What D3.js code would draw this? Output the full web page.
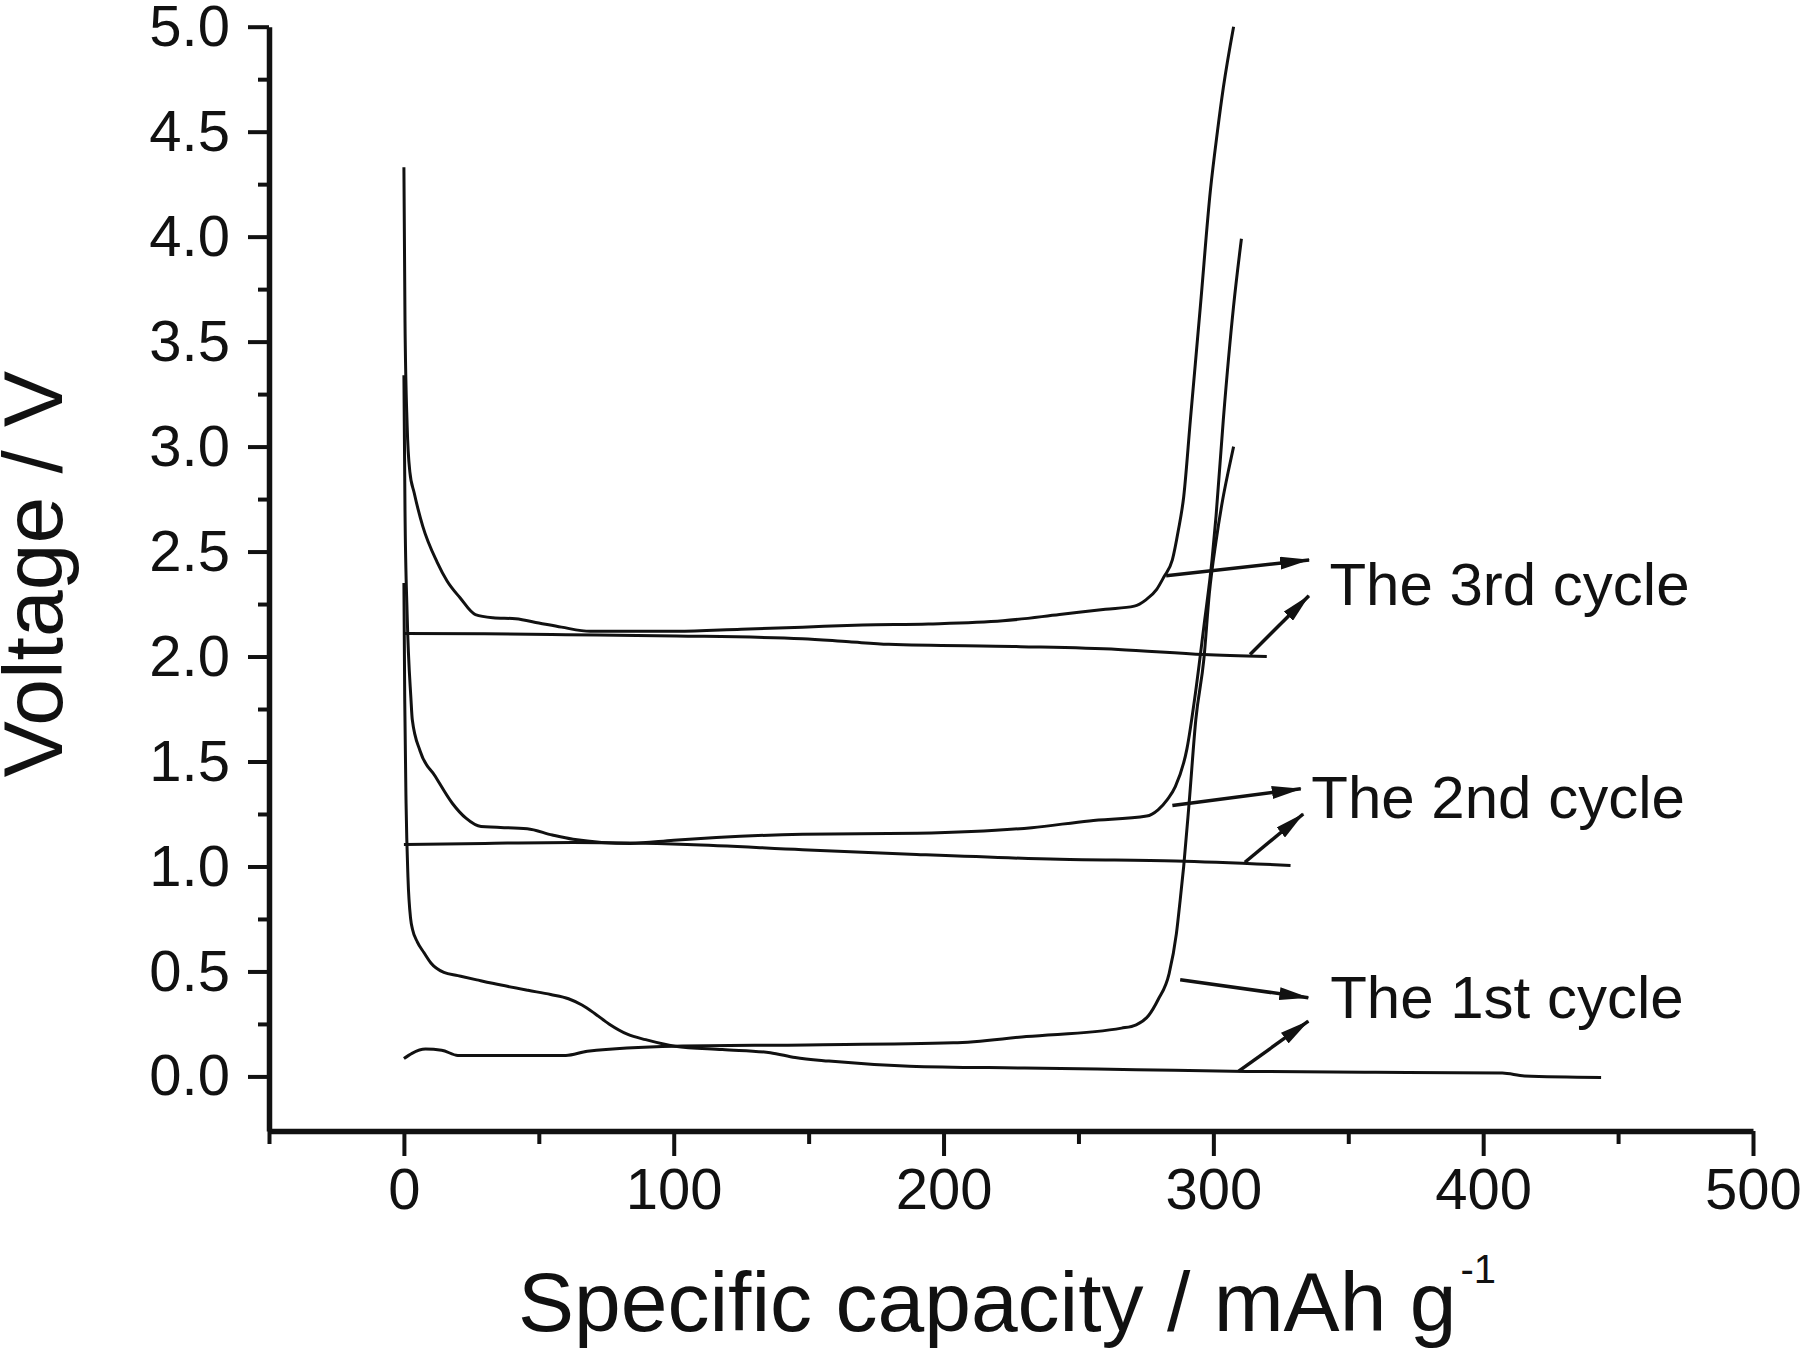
<!DOCTYPE html>
<html>
<head>
<meta charset="utf-8">
<script src="https://cdn.jsdelivr.net/npm/d3@7"></script>
<style>
  html, body { margin: 0; padding: 0; background: #fff; }
  svg { display: block; font-family: "Liberation Sans", Arial, Helvetica, sans-serif; }
  .axis path, .axis line { stroke: #111; }
  .axis text { fill: #111; }
  .curve { fill: none; stroke: #111; stroke-width: 3; stroke-linejoin: round; }
  .arrow { stroke: #111; stroke-width: 3.5; }
</style>
</head>
<body>
<div id="chart"></div>
<script>
// tick values
var capacityTicks = [0, 100, 200, 300, 400, 500];
var capacityMinor = [-50, 50, 150, 250, 350, 450];
var voltageTicks = [0, 0.5, 1.0, 1.5, 2.0, 2.5, 3.0, 3.5, 4.0, 4.5, 5.0];
var voltageMinor = [0.25, 0.75, 1.25, 1.75, 2.25, 2.75, 3.25, 3.75, 4.25, 4.75];

// [capacity mAh/g, voltage V] (cycles 2 and 3 are shifted up by 1 V and 2 V)
var cycle1Discharge = [[0, 2.35], [0.3, 1.8], [0.8, 1.3], [1.5, 0.95], [2.5, 0.75], [3.2, 0.70], [5, 0.64], [7.4, 0.59], [10, 0.54], [14.8, 0.495], [20, 0.48], [27, 0.46], [36, 0.435], [46, 0.41], [54.4, 0.39], [61, 0.37], [66, 0.34], [70.7, 0.30], [76, 0.25], [83, 0.2], [89.6, 0.175], [100.5, 0.144], [118, 0.128], [135.8, 0.113], [145, 0.09], [157.5, 0.073], [187.4, 0.049], [230, 0.04], [271.4, 0.032], [312.2, 0.024], [360, 0.02], [407.1, 0.016], [415.3, 0.002], [443.7, -0.005]];
var cycle1Charge = [[0, 0.085], [3, 0.11], [8, 0.13], [14, 0.125], [20, 0.1], [40, 0.1], [60, 0.1], [68, 0.12], [100.5, 0.144], [149.3, 0.15], [203.6, 0.16], [230.7, 0.19], [266, 0.23], [271.4, 0.246], [276, 0.29], [279.5, 0.365], [283.6, 0.49], [286.3, 0.68], [287.7, 0.84], [289, 1.0], [291, 1.3], [293.5, 1.7], [296.5, 1.99], [298.5, 2.3], [301, 2.55], [303.5, 2.75], [305.5, 2.88], [307.5, 3.0]];
var cycle2Sloped = [[0, 3.34], [0.4, 2.7], [1.2, 2.2], [2.6, 1.8], [3.1, 1.7], [6, 1.55], [11.6, 1.43], [18, 1.3], [23, 1.23], [28.6, 1.19], [45.7, 1.18], [55, 1.15], [62.7, 1.13], [83.9, 1.11], [100, 1.125], [115.8, 1.138], [147.7, 1.153], [190.2, 1.158], [232.7, 1.185], [254, 1.217], [275.3, 1.24], [279.5, 1.27], [283, 1.32], [285.9, 1.38], [290.2, 1.56], [293.4, 1.83], [296.5, 2.145], [299.5, 2.46], [301, 2.67], [303.7, 3.13], [307.5, 3.67], [310.4, 3.99]];
var cycle2Flat = [[0, 1.105], [30, 1.11], [62.7, 1.114], [105, 1.105], [147.7, 1.08], [190, 1.057], [243, 1.034], [286, 1.026], [328.6, 1.005]];
var cycle3Sloped = [[0, 4.33], [0.4, 3.6], [1.2, 3.1], [2.2, 2.88], [3.8, 2.78], [7, 2.62], [12.3, 2.45], [16, 2.36], [20.8, 2.28], [26.5, 2.2], [33, 2.185], [41.4, 2.18], [50, 2.16], [58.4, 2.14], [69, 2.12], [85, 2.12], [101, 2.12], [125, 2.13], [147.7, 2.14], [170, 2.15], [194.4, 2.155], [222, 2.17], [243, 2.2], [260, 2.225], [270.7, 2.24], [275, 2.27], [279, 2.32], [281.7, 2.38], [284.8, 2.46], [287, 2.6], [289, 2.76], [291.5, 3.13], [295.2, 3.67], [298.9, 4.22], [301.5, 4.5], [303.7, 4.71], [307.5, 5.0]];
var cycle3Flat = [[0, 2.11], [30, 2.108], [60, 2.104], [101, 2.098], [147.7, 2.085], [165, 2.07], [179.7, 2.058], [228.5, 2.047], [264.7, 2.034], [296.5, 2.01], [319.8, 2.0]];

// annotations: arrows [x1, v1, x2, v2] and label anchors
var arrows = [[282.5, 2.385, 335.5, 2.46], [313.6, 2.01, 335.4, 2.29], [284.8, 1.29, 332.4, 1.37], [311.7, 1.02, 333.3, 1.25], [287.7, 0.46, 335.2, 0.375], [309.4, 0.025, 335.2, 0.263]];
var labels = [["The 3rd cycle", 343, 2.246], ["The 2nd cycle", 336.3, 1.232], ["The 1st cycle", 343.3, 0.28]];

var W = 1800, H = 1351;
var x = d3.scaleLinear().domain([-50, 500]).range([269, 1753]);
var y = d3.scaleLinear().domain([-0.26, 5]).range([1131, 26.7]);

var svg = d3.select("#chart").append("svg").attr("width", W).attr("height", H);

svg.append("defs").append("marker")
  .attr("id", "head").attr("viewBox", "0 0 30 13")
  .attr("markerWidth", 30).attr("markerHeight", 13)
  .attr("refX", 29).attr("refY", 6.5)
  .attr("markerUnits", "userSpaceOnUse").attr("orient", "auto")
  .append("path").attr("d", "M0,0 L30,6.5 L0,13 Z").attr("fill", "#111");

// axes
var gx = svg.append("g").attr("class", "axis").attr("transform", "translate(0," + y(-0.26) + ")");
gx.call(d3.axisBottom(x).tickValues(capacityTicks).tickSize(25).tickSizeOuter(0).tickPadding(12).tickFormat(d3.format("d")));
gx.append("g").call(d3.axisBottom(x).tickValues(capacityMinor).tickSize(13).tickFormat("")).select(".domain").remove();
gx.selectAll("text").attr("font-size", 58).attr("font-family", "Liberation Sans, Arial, sans-serif");

var gy = svg.append("g").attr("class", "axis").attr("transform", "translate(" + x(-50) + ",0)");
gy.call(d3.axisLeft(y).tickValues(voltageTicks).tickSize(21).tickSizeOuter(0).tickPadding(18).tickFormat(d3.format(".1f")));
gy.append("g").call(d3.axisLeft(y).tickValues(voltageMinor).tickSize(11).tickFormat("")).select(".domain").remove();
gy.selectAll("text").attr("font-size", 58).attr("font-family", "Liberation Sans, Arial, sans-serif");

svg.selectAll(".axis .domain").attr("stroke-width", 5.5);
svg.selectAll(".axis line").attr("stroke-width", 4);

// curves
var line = d3.line().curve(d3.curveMonotoneX).x(function(d) { return x(d[0]); }).y(function(d) { return y(d[1]); });
svg.append("g").selectAll("path")
  .data([cycle1Discharge, cycle1Charge, cycle2Sloped, cycle2Flat, cycle3Sloped, cycle3Flat])
  .enter().append("path").attr("class", "curve").attr("d", line);

// arrows and labels
svg.append("g").selectAll("line").data(arrows).enter().append("line")
  .attr("class", "arrow")
  .attr("x1", function(d) { return x(d[0]); }).attr("y1", function(d) { return y(d[1]); })
  .attr("x2", function(d) { return x(d[2]); }).attr("y2", function(d) { return y(d[3]); })
  .attr("marker-end", "url(#head)");

svg.append("g").selectAll("text").data(labels).enter().append("text")
  .attr("x", function(d) { return x(d[1]); }).attr("y", function(d) { return y(d[2]); })
  .attr("font-size", 60).attr("fill", "#111")
  .text(function(d) { return d[0]; });

// axis titles
svg.append("text")
  .attr("transform", "translate(62,574) rotate(-90)")
  .attr("text-anchor", "middle").attr("font-size", 84).attr("fill", "#111")
  .text("Voltage / V");

var xt = svg.append("text").attr("x", 518).attr("y", 1331).attr("font-size", 84).attr("fill", "#111");
xt.append("tspan").text("Specific capacity / mAh g");
xt.append("tspan").attr("dx", 4).attr("dy", -48).attr("font-size", 40).text("-1");
</script>
</body>
</html>
